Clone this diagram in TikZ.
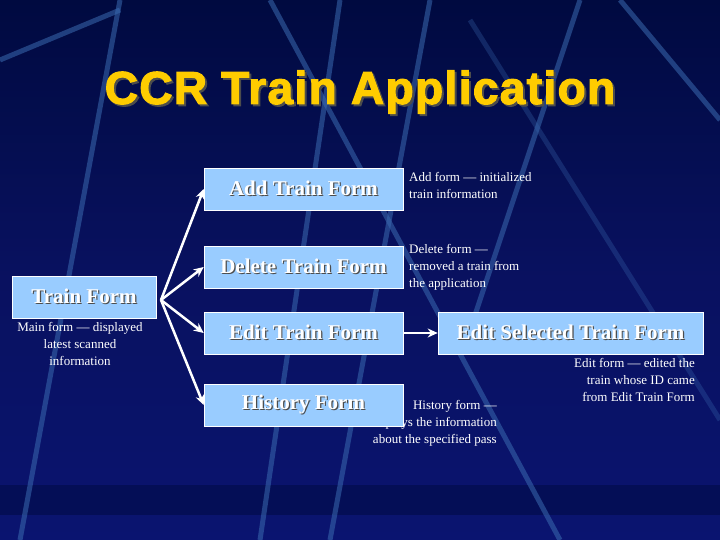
\documentclass[tikz,border=0pt]{standalone}
\usepackage{fontspec}
\setmainfont{Liberation Serif}
\newfontfamily\titlefont[FakeBold=2.5]{Liberation Sans}
\usetikzlibrary{arrows.meta}
\definecolor{bgA}{HTML}{0A1470}
\definecolor{bgB}{HTML}{000A40}
\definecolor{boxc}{HTML}{99CCFF}
\definecolor{ttl}{HTML}{FFCC00}
\definecolor{streak}{HTML}{3A6AB0}
\tikzset{
 frm/.style={fill=boxc,draw=white,line width=0.6pt,minimum height=42pt,inner sep=0pt,font=\bfseries\fontsize{21}{21}\selectfont,text=white},
 note/.style={text=white,font=\fontsize{13}{17}\selectfont,inner sep=0pt},
 arr/.style={white,line width=2.5pt,-{Stealth[length=10pt,width=9pt]}},
 str/.style={streak,line width=5pt,opacity=0.55}
}
\newcommand{\shd}[1]{\rlap{\raisebox{-1.2pt}{\hspace{1.2pt}\textcolor{gray!60!black}{#1}}}#1}
\begin{document}
\begin{tikzpicture}[x=1pt,y=-1pt]
\useasboundingbox (0,0) rectangle (720,540);
\shade[top color=bgB,bottom color=bgA,middle color=bgA!85!black] (0,0) rectangle (720,540);
\fill[bgB,opacity=0.5] (0,485) rectangle (720,515);
% streaks
\draw[str] (120,0) -- (20,540);
\draw[str] (340,0) -- (260,540);
\draw[str] (270,0) -- (560,540);
\draw[str] (430,0) -- (330,540);
\draw[str] (580,0) -- (470,330);
\draw[str] (0,60) -- (120,10);
\draw[str] (620,0) -- (720,120);
\draw[str,opacity=0.3] (470,20) -- (720,420);
% title
\node (title) at (360,93) {\titlefont\bfseries\fontsize{46}{46}\selectfont\addfontfeature{LetterSpace=3}\textcolor{ttl}{\rlap{\raisebox{-2pt}{\hspace{2pt}\textcolor{black!70}{CCR Train Application}}}CCR Train Application}};
% notes (drawn under boxes)
\node[note,align=right,anchor=north east] (hnote) at (497,400) {History form —\\displays the information\\about the specified pass};
% boxes
\node[frm,minimum width=144pt] (tf) at (84,297) {\shd{Train Form}};
\node[frm,minimum width=199pt] (add) at (303.5,189) {\shd{Add Train Form}};
\node[frm,minimum width=199pt] (del) at (303.5,267) {\shd{Delete Train Form}};
\node[frm,minimum width=199pt] (edit) at (303.5,333) {\shd{Edit Train Form}};
\node[frm,minimum width=199pt] (hist) at (303.5,405) {\shd{History Form}};
\node[frm,minimum width=265pt] (esel) at (570.5,333) {\shd{Edit Selected Train Form}};
\node[note,align=center,anchor=north] (tnote) at (80,322) {Main form — displayed\\latest scanned\\information};
\node[note,align=left,anchor=north west] (anote) at (409,172) {Add form — initialized\\train information};
\node[note,align=left,anchor=north west] (dnote) at (409,244) {Delete form —\\removed a train from\\the application};
\node[note,align=right,anchor=north east] (enote) at (695,358) {Edit form — edited the\\train whose ID came\\from Edit Train Form};
\coordinate (hub) at (161,300);
\draw[arr] (hub) -- (add.west);
\draw[arr] (hub) -- (del.west);
\draw[arr] (hub) -- (edit.west);
\draw[arr] (hub) -- (hist.west);
\draw[arr] (edit.east) -- (esel.west);
\end{tikzpicture}
\end{document}
